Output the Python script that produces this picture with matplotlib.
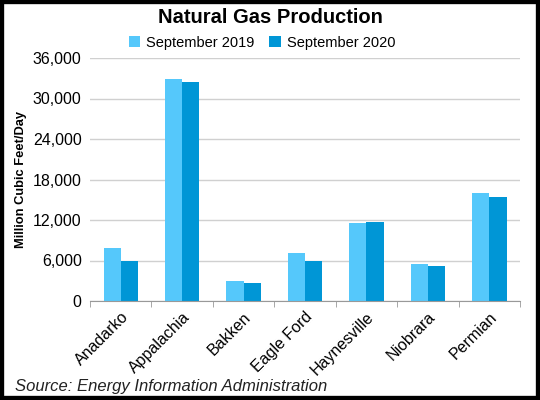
import numpy as np
import matplotlib
matplotlib.use("Agg")
import matplotlib.pyplot as plt
from matplotlib.patches import Rectangle

basins = ["Anadarko", "Appalachia", "Bakken", "Eagle Ford", "Haynesville", "Niobrara", "Permian"]
sep_2019 = [7800, 32900, 2950, 7050, 11500, 5450, 16050]
sep_2020 = [5900, 32400, 2650, 5950, 11650, 5150, 15350]
yticks = [0, 6000, 12000, 18000, 24000, 30000, 36000]

plt.rcParams['font.family'] = ['Liberation Sans', 'DejaVu Sans']

fig = plt.figure(figsize=(5.4, 4.0), dpi=100)
ax = fig.add_axes([0.1667, 0.2475, 0.7963, 0.6075])

x = np.arange(len(basins))
w = 0.28
ax.bar(x - w / 2, sep_2019, width=w, color="#55c8fb", label="September 2019")
ax.bar(x + w / 2, sep_2020, width=w, color="#0096d6", label="September 2020")

ax.set_xlim(-0.5, len(basins) - 0.5)
ax.set_ylim(0, 36000)
ax.set_yticks(yticks)
ax.set_yticklabels([f"{v:,}" for v in yticks], fontsize=11.5)
ax.tick_params(axis="y", length=0, pad=6)
ax.yaxis.grid(True, color="#d0d0d0", linewidth=1)
ax.set_axisbelow(True)

# category labels centred, ticks on the boundaries
ax.set_xticks(x)
ax.set_xticklabels(basins, rotation=45, ha="right", rotation_mode="anchor", fontsize=11.5)
ax.tick_params(axis="x", which="major", length=0, pad=6)
ax.set_xticks(np.arange(-0.5, len(basins)), minor=True)
ax.tick_params(axis="x", which="minor", length=4, color="#999999", direction="out")

for s in ["top", "right", "left"]:
    ax.spines[s].set_visible(False)
ax.spines["bottom"].set_color("#999999")

ax.set_ylabel("Million Cubic Feet/Day", fontsize=9.3, fontweight="bold", labelpad=4)

fig.text(0.5, 0.957, "Natural Gas Production", ha="center", va="center",
         fontsize=14.5, fontweight="bold")
ax.legend(loc="center", bbox_to_anchor=(0.485, 0.893), bbox_transform=fig.transFigure,
          ncol=2, frameon=False, fontsize=10.5, handlelength=0.8, handleheight=0.8,
          columnspacing=1.0, handletextpad=0.4)

fig.text(0.028, 0.033, "Source: Energy Information Administration", ha="left", va="center",
         fontsize=12, style="italic", color="#222222")

fig.patches.append(Rectangle((0, 0), 1, 1, transform=fig.transFigure, fill=False,
                             edgecolor="black", linewidth=6))

fig.savefig("out.png", dpi=100)
